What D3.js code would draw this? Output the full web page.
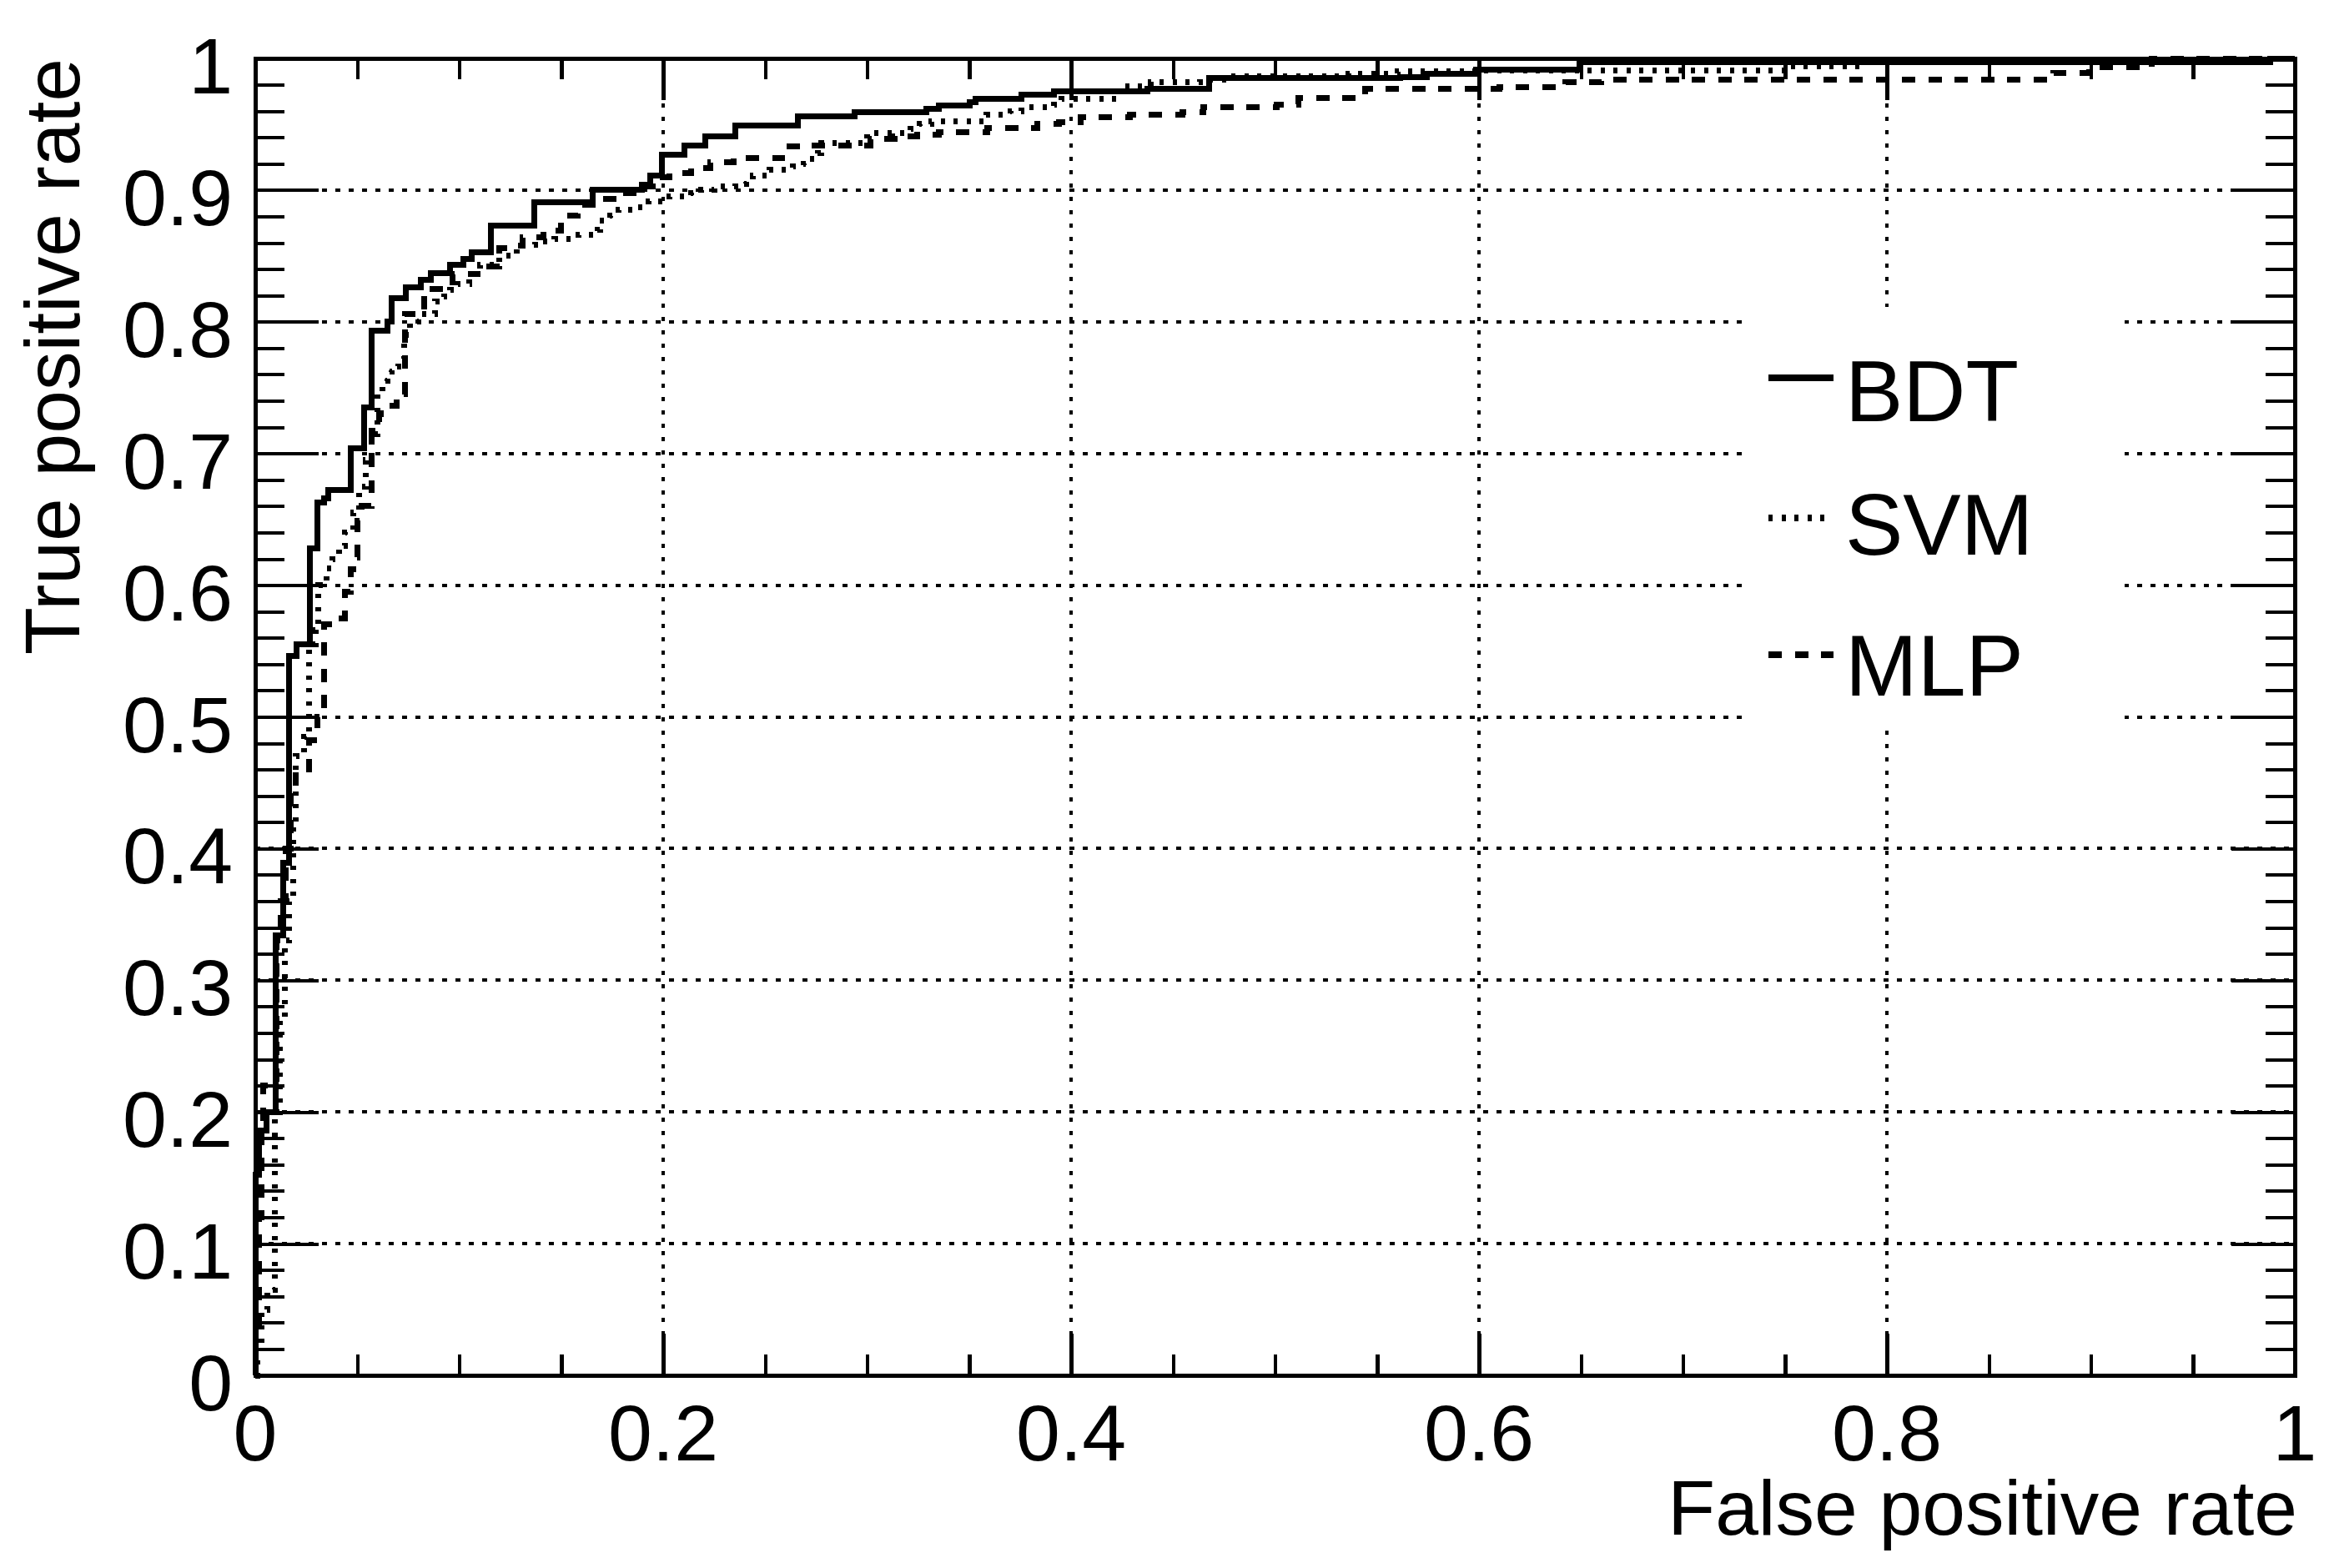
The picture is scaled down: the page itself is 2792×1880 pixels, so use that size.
<!DOCTYPE html>
<html lang="en">

<head>
    <meta charset="utf-8">
    <script src='https://d3js.org/d3.v7.min.js'></script>
    <style>
        body { margin: 0; background: #fff; }
        text { font-family: "Liberation Sans", Arial, Helvetica, sans-serif; fill: #000; }
        line, path, rect { shape-rendering: crispEdges; }
    </style>
</head>

<body>
<script>
    // tick labels
    const xTickValues = [0, 0.2, 0.4, 0.6, 0.8, 1];
    const xTickLabels = ["0", "0.2", "0.4", "0.6", "0.8", "1"];
    const yTickValues = [0, 0.1, 0.2, 0.3, 0.4, 0.5, 0.6, 0.7, 0.8, 0.9, 1];
    const yTickLabels = ["0", "0.1", "0.2", "0.3", "0.4", "0.5", "0.6", "0.7", "0.8", "0.9", "1"];
    const xGridValues = [0.2, 0.4, 0.6, 0.8];
    const yGridValues = [0.1, 0.2, 0.3, 0.4, 0.5, 0.6, 0.7, 0.8, 0.9];

    const legendLabels = ["BDT", "SVM", "MLP"];

    // ROC curves, [false positive rate, true positive rate] at each step
    const bdt = [
        [0, 0], [0, 0.152], [0.002, 0.186], [0.0055, 0.2], [0.0102, 0.334], [0.0135, 0.389],
        [0.0165, 0.546], [0.0201, 0.555], [0.0269, 0.628], [0.0305, 0.663], [0.0336, 0.666],
        [0.0357, 0.672], [0.0468, 0.704], [0.0534, 0.735], [0.057, 0.793], [0.0647, 0.8],
        [0.067, 0.818], [0.0737, 0.826], [0.081, 0.832], [0.0862, 0.837], [0.0956, 0.843],
        [0.1019, 0.848], [0.1061, 0.853], [0.1154, 0.873], [0.137, 0.891], [0.1655, 0.9],
        [0.1895, 0.904], [0.1937, 0.911], [0.1995, 0.927], [0.2104, 0.934], [0.2208, 0.941],
        [0.2354, 0.949], [0.2661, 0.956], [0.2939, 0.959], [0.329, 0.962], [0.335, 0.964],
        [0.3505, 0.967], [0.353, 0.969], [0.3755, 0.9725], [0.3918, 0.975], [0.4375, 0.977],
        [0.4676, 0.985], [0.5615, 0.986], [0.5744, 0.988], [0.5985, 0.9915], [0.6493, 0.997],
        [0.988, 1], [1, 1]
    ];

    const svm = [
        [0, 0], [0.001, 0.02], [0.003, 0.05], [0.006, 0.065], [0.0098, 0.2], [0.012, 0.27],
        [0.0145, 0.33], [0.0166, 0.36], [0.0185, 0.42], [0.02, 0.47], [0.024, 0.485],
        [0.0265, 0.555], [0.0295, 0.566], [0.031, 0.6], [0.035, 0.613], [0.038, 0.62],
        [0.041, 0.63], [0.044, 0.64], [0.048, 0.655], [0.051, 0.675], [0.054, 0.695],
        [0.057, 0.715], [0.0601, 0.745], [0.0625, 0.755], [0.0648, 0.762], [0.0669, 0.766],
        [0.0702, 0.772], [0.073, 0.79], [0.076, 0.8], [0.08, 0.806], [0.0883, 0.8155],
        [0.0925, 0.8195], [0.0956, 0.824], [0.0992, 0.829], [0.105, 0.836], [0.1102, 0.843],
        [0.1197, 0.85], [0.1283, 0.8585], [0.1374, 0.861], [0.1467, 0.863], [0.1583, 0.866],
        [0.1677, 0.87], [0.169, 0.877], [0.174, 0.8805], [0.178, 0.885], [0.1874, 0.887],
        [0.1927, 0.8915], [0.2031, 0.895], [0.2136, 0.898], [0.2188, 0.9], [0.225, 0.903],
        [0.2355, 0.905], [0.2407, 0.9075], [0.2438, 0.911], [0.2521, 0.9155], [0.2637, 0.918],
        [0.2688, 0.92], [0.272, 0.9235], [0.2757, 0.928], [0.2774, 0.936], [0.2998, 0.9436],
        [0.3213, 0.9465], [0.3256, 0.95], [0.3316, 0.952], [0.3583, 0.957], [0.3703, 0.96],
        [0.3755, 0.963], [0.3918, 0.965], [0.3953, 0.969], [0.4237, 0.979], [0.4392, 0.982],
        [0.4633, 0.984], [0.48, 0.9865], [0.536, 0.9885], [0.56, 0.99], [0.6, 0.991],
        [0.751, 0.9937], [0.79, 0.997], [0.988, 1], [1, 1]
    ];

    const mlp = [
        [0, 0], [0, 0.04], [0.002, 0.12], [0.003, 0.19], [0.004, 0.22], [0.0105, 0.33],
        [0.0125, 0.36], [0.015, 0.4], [0.0175, 0.44], [0.02, 0.46], [0.0262, 0.482],
        [0.0305, 0.5], [0.0337, 0.57], [0.039, 0.575], [0.0438, 0.595], [0.0468, 0.612],
        [0.0494, 0.621], [0.0503, 0.649], [0.052, 0.66], [0.0569, 0.677], [0.0572, 0.717],
        [0.0606, 0.73], [0.0617, 0.736], [0.0692, 0.745], [0.0734, 0.806], [0.0827, 0.825],
        [0.0968, 0.836], [0.1092, 0.842], [0.1197, 0.856], [0.1258, 0.858], [0.131, 0.864],
        [0.1415, 0.869], [0.1499, 0.8806], [0.1582, 0.8887], [0.168, 0.893], [0.178, 0.898],
        [0.188, 0.903], [0.1967, 0.9097], [0.2031, 0.9127], [0.2136, 0.917], [0.223, 0.921],
        [0.2344, 0.9243], [0.2584, 0.9335], [0.269, 0.934], [0.3015, 0.9387], [0.3135, 0.941],
        [0.3247, 0.942], [0.335, 0.944], [0.359, 0.947], [0.3833, 0.95], [0.394, 0.9514],
        [0.4048, 0.9554], [0.4289, 0.9575], [0.4547, 0.959], [0.465, 0.963], [0.501, 0.965],
        [0.5115, 0.97], [0.5443, 0.977], [0.61, 0.978], [0.6424, 0.982], [0.66, 0.984],
        [0.8816, 0.989], [0.8992, 0.9934], [0.93, 1], [1, 1]
    ];

    const series = [
        {name: legendLabels[0], values: bdt, dash: null},
        {name: legendLabels[1], values: svm, dash: "5,10.5"},
        {name: legendLabels[2], values: mlp, dash: "16,15.5"}
    ];

    // page and frame
    const width = 2792, height = 1880;
    const frame = {left: 306, top: 70, right: 2751, bottom: 1649};
    const lineW = 7;

    const svg = d3.select("body")
        .append("svg")
        .attr("width", width)
        .attr("height", height);

    const x = d3.scaleLinear().domain([0, 1]).range([frame.left, frame.right]);
    const y = d3.scaleLinear().domain([0, 1]).range([frame.bottom, frame.top]);

    // dotted grid
    const grid = svg.append("g")
        .attr("stroke", "#000")
        .attr("stroke-width", 4)
        .attr("stroke-dasharray", "5.5,10.5");

    grid.selectAll(".vgrid")
        .data(xGridValues)
        .enter().append("line")
        .attr("x1", d => x(d)).attr("x2", d => x(d))
        .attr("y1", frame.bottom).attr("y2", frame.top);

    grid.selectAll(".hgrid")
        .data(yGridValues)
        .enter().append("line")
        .attr("x1", frame.left).attr("x2", frame.right)
        .attr("y1", d => y(d)).attr("y2", d => y(d));

    // curves
    const line = d3.line()
        .x(d => x(d[0]))
        .y(d => y(d[1]))
        .curve(d3.curveStepAfter);

    svg.selectAll(".roc")
        .data(series)
        .enter().append("path")
        .attr("class", "roc")
        .attr("fill", "none")
        .attr("stroke", "#000")
        .attr("stroke-width", lineW)
        .attr("stroke-linejoin", "miter")
        .attr("stroke-dasharray", d => d.dash)
        .attr("d", d => line(d.values));

    // legend (white box, no border)
    const legend = {x: 2096, y: 368, w: 451, h: 502};
    svg.append("rect")
        .attr("x", legend.x).attr("y", legend.y)
        .attr("width", legend.w).attr("height", legend.h)
        .attr("fill", "#fff");

    const rowY = [453, 621, 785];
    const textY = [505, 665, 834];

    const entries = svg.selectAll(".entry")
        .data(series)
        .enter().append("g")
        .attr("class", "entry");

    entries.append("line")
        .attr("x1", 2120).attr("x2", 2198)
        .attr("y1", (d, i) => rowY[i]).attr("y2", (d, i) => rowY[i])
        .attr("stroke", "#000")
        .attr("stroke-width", 8)
        .attr("stroke-dasharray", d => d.dash);

    entries.append("text")
        .attr("x", 2212)
        .attr("y", (d, i) => textY[i])
        .attr("font-size", 104)
        .text(d => d.name);

    // ticks on all four sides
    function ticks(axis, values, size, transform, w) {
        const g = svg.append("g")
            .attr("transform", transform)
            .call(axis.tickValues(values).tickSize(-size).tickFormat(""));
        g.select(".domain").remove();
        g.selectAll(".tick line").attr("stroke-width", w);
        return g;
    }

    const xMinor = d3.range(0, 1.0001, 0.05);
    const yMinor = d3.range(0, 1.0001, 0.02);

    ticks(d3.axisBottom(x), xMinor, 25, "translate(0," + frame.bottom + ")", 4.5);
    ticks(d3.axisBottom(x), xTickValues, 50, "translate(0," + frame.bottom + ")", 4.5);
    ticks(d3.axisTop(x), xMinor, 25, "translate(0," + frame.top + ")", 4.5);
    ticks(d3.axisTop(x), xTickValues, 50, "translate(0," + frame.top + ")", 4.5);
    ticks(d3.axisLeft(y), yMinor, 35, "translate(" + frame.left + ",0)", 4);
    ticks(d3.axisLeft(y), yTickValues, 76, "translate(" + frame.left + ",0)", 4);
    ticks(d3.axisRight(y), yMinor, 35, "translate(" + frame.right + ",0)", 4);
    ticks(d3.axisRight(y), yTickValues, 76, "translate(" + frame.right + ",0)", 4);

    // frame
    svg.append("rect")
        .attr("x", frame.left).attr("y", frame.top)
        .attr("width", frame.right - frame.left)
        .attr("height", frame.bottom - frame.top)
        .attr("fill", "none")
        .attr("stroke", "#000")
        .attr("stroke-width", 5);

    // tick labels
    svg.selectAll(".xlabel")
        .data(xTickValues)
        .enter().append("text")
        .attr("x", d => x(d))
        .attr("y", 1751)
        .attr("text-anchor", "middle")
        .attr("font-size", 95)
        .text((d, i) => xTickLabels[i]);

    svg.selectAll(".ylabel")
        .data(yTickValues)
        .enter().append("text")
        .attr("x", 279)
        .attr("y", d => y(d) + 42)
        .attr("text-anchor", "end")
        .attr("font-size", 95)
        .text((d, i) => yTickLabels[i]);

    // axis titles
    svg.append("text")
        .attr("x", 2754)
        .attr("y", 1840)
        .attr("text-anchor", "end")
        .attr("font-size", 93)
        .text("False positive rate");

    svg.append("text")
        .attr("transform", "translate(95," + frame.top + ") rotate(-90)")
        .attr("text-anchor", "end")
        .attr("font-size", 93)
        .text("True positive rate");
</script>
</body>

</html>
